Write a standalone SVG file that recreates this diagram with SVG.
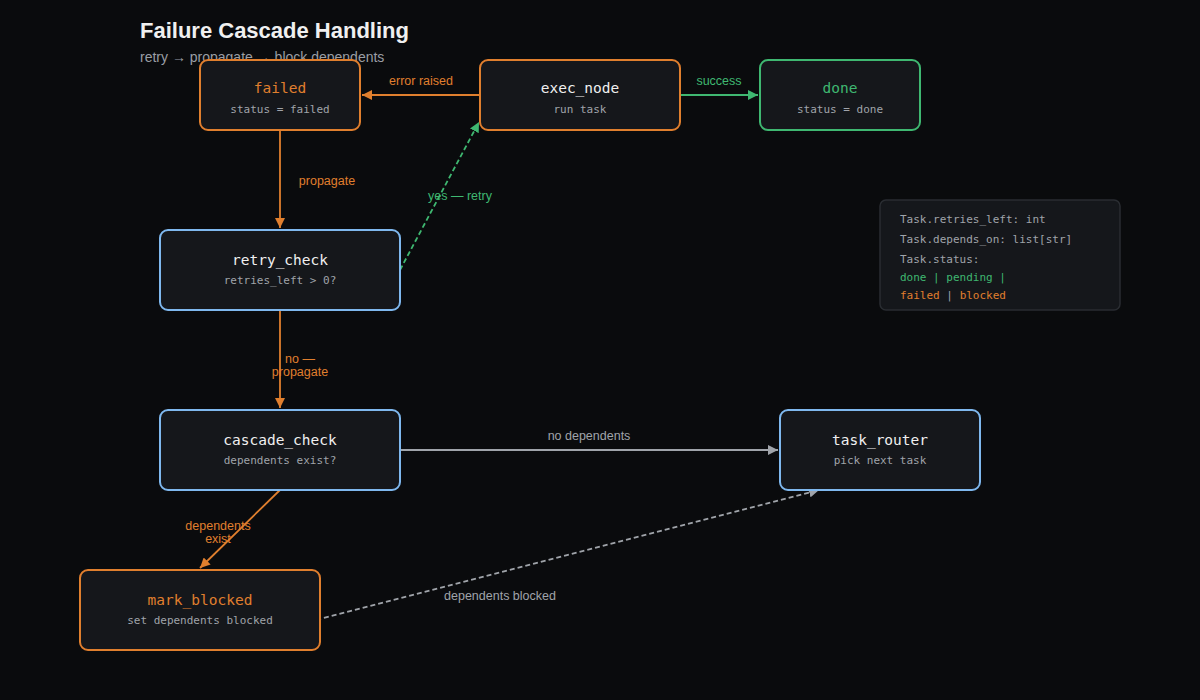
<svg xmlns="http://www.w3.org/2000/svg" width="1200" height="700" viewBox="0 0 1200 700">
<defs>
<style>
.n{fill:#15171b;stroke-width:2}
.o{stroke:#e07f2e}.g{stroke:#3fb871}.b{stroke:#7fb8ee}
.t{font-family:"DejaVu Sans Mono","Liberation Mono",monospace;font-size:14.5px;text-anchor:middle}
.s{font-family:"DejaVu Sans Mono","Liberation Mono",monospace;font-size:11px;fill:#a0a4aa;text-anchor:middle}
.l{font-family:"Liberation Sans",Arial,sans-serif;font-size:12.5px;text-anchor:middle}
.m{font-family:"DejaVu Sans Mono","Liberation Mono",monospace;font-size:11px;fill:#a0a4aa}
</style>
<marker id="ao" viewBox="0 0 10 10" refX="10" refY="5" markerWidth="10" markerHeight="10" markerUnits="userSpaceOnUse" orient="auto"><path d="M0,0L10,5L0,10z" fill="#e07f2e"/></marker>
<marker id="ag" viewBox="0 0 10 10" refX="10" refY="5" markerWidth="10" markerHeight="10" markerUnits="userSpaceOnUse" orient="auto"><path d="M0,0L10,5L0,10z" fill="#3fb871"/></marker>
<marker id="ay" viewBox="0 0 10 10" refX="10" refY="5" markerWidth="10" markerHeight="10" markerUnits="userSpaceOnUse" orient="auto"><path d="M0,0L10,5L0,10z" fill="#a0a4aa"/></marker>
</defs>
<rect width="1200" height="700" fill="#0a0b0d"/>
<text x="140" y="38" font-family="Liberation Sans,Arial,sans-serif" font-size="22" font-weight="bold" fill="#f0f0f0">Failure Cascade Handling</text>
<text x="140" y="62" font-family="Liberation Sans,Arial,sans-serif" font-size="14" fill="#9a9ea4">retry → propagate → block dependents</text>
<g id="connectors" fill="none" stroke-width="1.8">
<path d="M480,95H362" stroke="#e07f2e" marker-end="url(#ao)"/>
<path d="M680,95H758" stroke="#3fb871" marker-end="url(#ag)"/>
<path d="M280,130V228" stroke="#e07f2e" marker-end="url(#ao)"/>
<path d="M400,270L479,122" stroke="#3fb871" stroke-dasharray="5,3" marker-end="url(#ag)"/>
<path d="M280,310V408" stroke="#e07f2e" marker-end="url(#ao)"/>
<path d="M400,450H778" stroke="#a0a4aa" marker-end="url(#ay)"/>
<path d="M280,490L200,568" stroke="#e07f2e" marker-end="url(#ao)"/>
<path d="M200,650L819,490" stroke="#a0a4aa" stroke-dasharray="5,3" marker-end="url(#ay)"/>
</g>
<g id="labels">
<text class="l" x="421" y="85" fill="#e07f2e">error raised</text>
<text class="l" x="719" y="85" fill="#3fb871">success</text>
<text class="l" x="327" y="185" fill="#e07f2e">propagate</text>
<text class="l" x="460" y="200" fill="#3fb871">yes — retry</text>
<text class="l" x="300" y="363" fill="#e07f2e" text-anchor="start">no —</text>
<text class="l" x="300" y="376" fill="#e07f2e" text-anchor="start">propagate</text>
<text class="l" x="589" y="440" fill="#a0a4aa">no dependents</text>
<text class="l" x="218" y="530" fill="#e07f2e">dependents</text>
<text class="l" x="218" y="543" fill="#e07f2e">exist</text>
<text class="l" x="500" y="600" fill="#a0a4aa">dependents blocked</text>
</g>
<g id="failed"><rect class="n o" x="200" y="60" width="160" height="70" rx="8"/><text class="t" x="280" y="93" fill="#e07f2e">failed</text><text class="s" x="280" y="113">status = failed</text></g>
<g id="exec_node"><rect class="n o" x="480" y="60" width="200" height="70" rx="8"/><text class="t" x="580" y="93" fill="#f0f0f0">exec_node</text><text class="s" x="580" y="113">run task</text></g>
<g id="done"><rect class="n g" x="760" y="60" width="160" height="70" rx="8"/><text class="t" x="840" y="93" fill="#3fb871">done</text><text class="s" x="840" y="113">status = done</text></g>
<g id="retry_check"><rect class="n b" x="160" y="230" width="240" height="80" rx="8"/><text class="t" x="280" y="265" fill="#f0f0f0">retry_check</text><text class="s" x="280" y="284">retries_left &gt; 0?</text></g>
<g id="cascade_check"><rect class="n b" x="160" y="410" width="240" height="80" rx="8"/><text class="t" x="280" y="445" fill="#f0f0f0">cascade_check</text><text class="s" x="280" y="464">dependents exist?</text></g>
<g id="task_router"><rect class="n b" x="780" y="410" width="200" height="80" rx="8"/><text class="t" x="880" y="445" fill="#f0f0f0">task_router</text><text class="s" x="880" y="464">pick next task</text></g>
<g id="mark_blocked"><rect class="n o" x="80" y="570" width="240" height="80" rx="8"/><text class="t" x="200" y="605" fill="#e07f2e">mark_blocked</text><text class="s" x="200" y="624">set dependents blocked</text></g>
<g id="legend"><rect x="880" y="200" width="240" height="110" rx="6" fill="#15171b" stroke="#2a2d32" stroke-width="1.5"/>
<text class="m" x="900" y="223">Task.retries_left: int</text>
<text class="m" x="900" y="243">Task.depends_on: list[str]</text>
<text class="m" x="900" y="263">Task.status:</text>
<text class="m" x="900" y="281" fill="#3fb871" style="fill:#3fb871">done | pending |</text>
<text class="m" x="900" y="299"><tspan style="fill:#e07f2e">failed</tspan> | <tspan style="fill:#e07f2e">blocked</tspan></text>
</g>
</svg>
